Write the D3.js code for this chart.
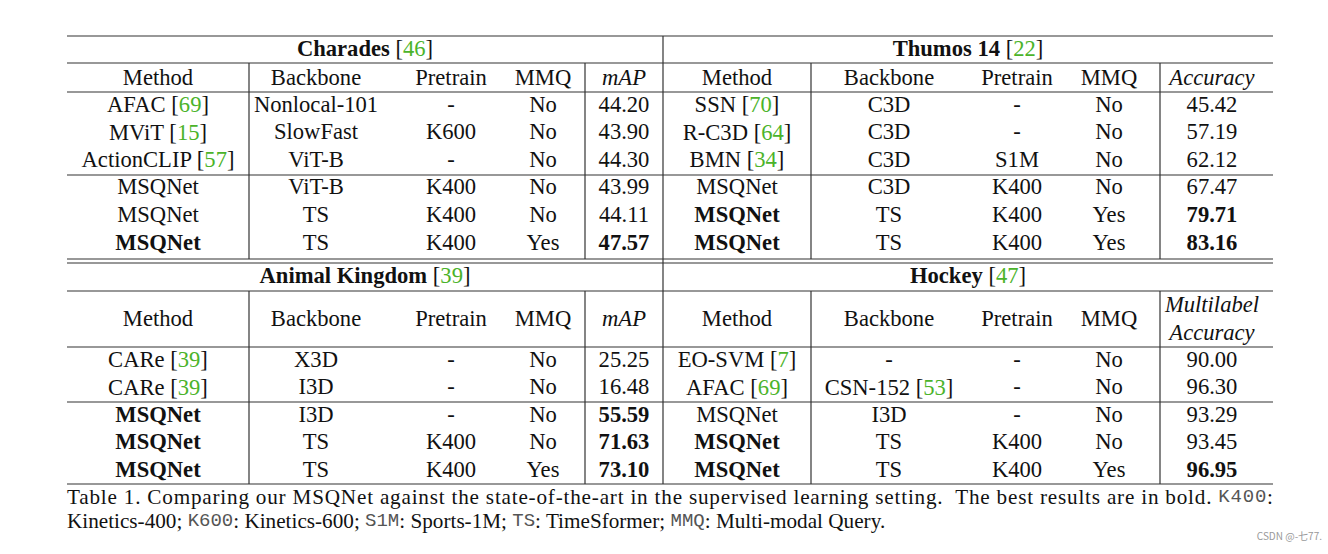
<!DOCTYPE html>
<html><head><meta charset="utf-8">
<script src="https://cdn.jsdelivr.net/npm/d3@7"></script>
<style>body{margin:0;background:#fff}</style></head>
<body><svg id="c" width="1328" height="554"></svg>
<script>
const columns = ["Method","Backbone","Pretrain","MMQ"];
const charadesRows = [
 ["AFAC [69]","Nonlocal-101","-","No","44.20"],
 ["MViT [15]","SlowFast","K600","No","43.90"],
 ["ActionCLIP [57]","ViT-B","-","No","44.30"],
 ["MSQNet","ViT-B","K400","No","43.99"],
 ["MSQNet","TS","K400","No","44.11"],
 ["**MSQNet","TS","K400","Yes","**47.57"]];
const thumosRows = [
 ["SSN [70]","C3D","-","No","45.42"],
 ["R-C3D [64]","C3D","-","No","57.19"],
 ["BMN [34]","C3D","S1M","No","62.12"],
 ["MSQNet","C3D","K400","No","67.47"],
 ["**MSQNet","TS","K400","Yes","**79.71"],
 ["**MSQNet","TS","K400","Yes","**83.16"]];
const animalRows = [
 ["CARe [39]","X3D","-","No","25.25"],
 ["CARe [39]","I3D","-","No","16.48"],
 ["**MSQNet","I3D","-","No","**55.59"],
 ["**MSQNet","TS","K400","No","**71.63"],
 ["**MSQNet","TS","K400","Yes","**73.10"]];
const hockeyRows = [
 ["EO-SVM [7]","-","-","No","90.00"],
 ["AFAC [69]","CSN-152 [53]","-","No","96.30"],
 ["MSQNet","I3D","-","No","93.29"],
 ["**MSQNet","TS","K400","No","93.45"],
 ["**MSQNet","TS","K400","Yes","**96.95"]];
const titles = ["Charades [46]","Thumos 14 [22]","Animal Kingdom [39]","Hockey [47]"];
const metrics = ["mAP","Accuracy","mAP","Multilabel|Accuracy"];

const svg = d3.select("#c");
const F = "'Liberation Serif','Times New Roman',serif";
const green = "#4bb32a";
const leftX = [158,316,451,543,624], rightX=[737,889,1017,1109,1212];
const FS = 22.6;

function txt(x,y,s,opt={}){
  let bold=false; if(s.startsWith("**")){bold=true;s=s.slice(2);}
  const t=svg.append("text").attr("x",x).attr("y",y).attr("text-anchor","middle")
   .attr("dominant-baseline","central").attr("font-family",F).attr("font-size",opt.size||FS)
   .attr("fill","#111").attr("font-weight",(bold||opt.bold)?"bold":"normal")
   .attr("font-style",opt.italic?"italic":"normal");
  const m=s.match(/^(.*?)(\[\d+\])$/);
  if(m){t.append("tspan").text(m[1]);t.append("tspan").attr("font-weight","normal").text("[");
    t.append("tspan").attr("fill",green).attr("font-weight","normal").text(m[2].slice(1,-1));
    t.append("tspan").attr("font-weight","normal").text("]");}
  else t.text(s);
}
function line(x1,y1,x2,y2,w){svg.append("line").attr("x1",x1).attr("y1",y1).attr("x2",x2).attr("y2",y2).attr("stroke","#333").attr("stroke-width",w||1.2);}

function block(xs,x0,x1,title,metric,rows,yTitle,yHead,rowY,sep1,sep2,yTop,yBot){
  txt((x0+x1)/2,yTitle,title,{bold:true});
  columns.forEach((c,i)=>txt(xs[i],yHead,c));
  const mp=metric.split("|");
  if(mp.length==2){txt(xs[4],yHead-14,mp[0],{italic:true});txt(xs[4],yHead+14,mp[1],{italic:true});}
  else txt(xs[4],yHead,metric,{italic:true});
  const y=d3.scalePoint().domain(d3.range(rows.length)).range(rowY);
  rows.forEach((r,i)=>r.forEach((v,j)=>txt(xs[j],y(i),v)));
  line(sep1,yTop,sep1,yBot);line(sep2,yTop,sep2,yBot);
}
line(67,36,1273,36);line(67,63,1273,63);line(67,92,1273,92);line(67,175,1273,175);
line(67,259,1273,259);line(67,263,1273,263);line(67,291,1273,291);line(67,347,1273,347);
line(67,402,1273,402);line(67,484,1273,484);
line(663,36,663,484);
block(leftX,67,663,titles[0],metrics[0],charadesRows,48,77,[104,242],249,585,63,259);
block(rightX,663,1273,titles[1],metrics[1],thumosRows,48,77,[104,242],811,1160,63,259);
block(leftX,67,663,titles[2],metrics[2],animalRows,275,318,[359,469],249,585,291,484);
block(rightX,663,1273,titles[3],metrics[3],hockeyRows,275,318,[359,469],811,1160,291,484);

const M="'Liberation Mono','DejaVu Sans Mono',monospace";
const cap1=[["Table 1. Comparing our MSQNet against the state-of-the-art in the supervised learning setting.  The best results are in bold. ",F],["K400",M],[":",F]];
const cap2=[["Kinetics-400; ",F],["K600",M],[": Kinetics-600; ",F],["S1M",M],[": Sports-1M; ",F],["TS",M],[": TimeSformer; ",F],["MMQ",M],[": Multi-modal Query.",F]];
[[cap1,497],[cap2,521]].forEach(([parts,yy],k)=>{
  const t=svg.append("text").attr("x",67).attr("y",yy).attr("dominant-baseline","central").attr("font-size",21.2).attr("fill","#111").attr("xml:space","preserve");
  if(k==0) t.attr("textLength",1206).attr("lengthAdjust","spacing");
  parts.forEach(p=>t.append("tspan").attr("font-family",p[1]).attr("font-size",p[1]==M?19:21.2).attr("fill",p[1]==M?"#555":"#111").text(p[0]));
});
svg.append("text").attr("x",1322).attr("y",540).attr("text-anchor","end").attr("font-family","'Noto Sans CJK SC',sans-serif").attr("font-size",10).attr("fill","#999").text("CSDN @-七77.");
</script></body></html>
